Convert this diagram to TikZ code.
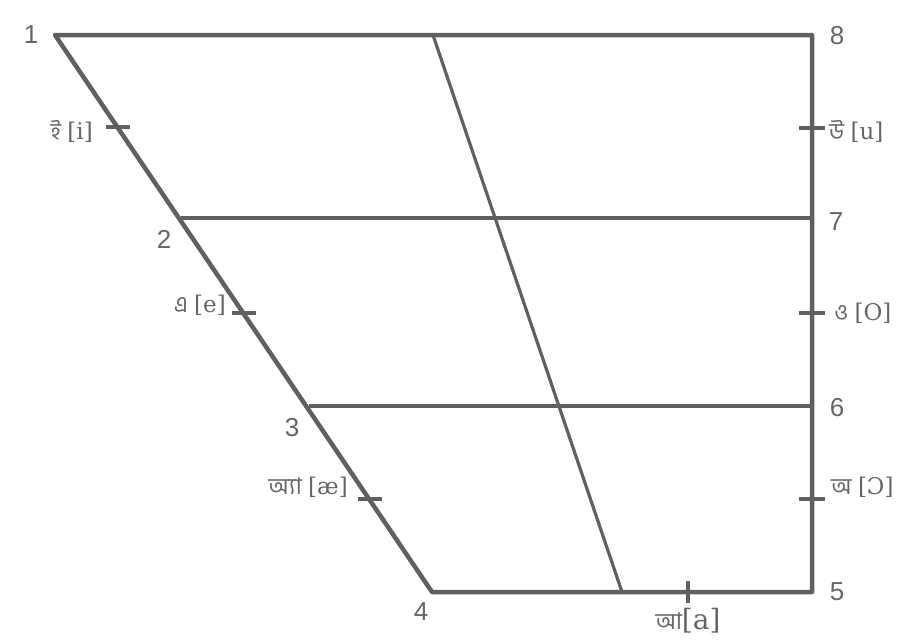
\documentclass[tikz,border=0pt]{standalone}
\usepackage{fontspec}
\setmainfont{Liberation Sans}
\newfontfamily\bn[Script=Bengali]{Hind Siliguri}
\newfontfamily\ipa{DejaVu Serif}
\begin{document}
\begin{tikzpicture}[x=1pt,y=-1pt,
  frame/.style={draw=gray!75!black,line width=4.5pt,line join=round},
  thin/.style={draw=gray!75!black,line width=3.2pt},
  tick/.style={draw=gray!75!black,line width=3.2pt},
  num/.style={text=gray!80!black,font=\fontsize{26}{26}\selectfont,inner sep=0pt},
  lab/.style={text=gray!80!black,font=\fontsize{23}{23}\selectfont,inner sep=0pt}]
\useasboundingbox (0,0) rectangle (921,641);
\coordinate (p1) at (55,35);
\coordinate (p2) at (181,218);
\coordinate (p3) at (309,406);
\coordinate (p4) at (432,592);
\coordinate (p5) at (812,592);
\coordinate (p6) at (812,406);
\coordinate (p7) at (812,218);
\coordinate (p8) at (812,35);
\coordinate (m1) at (433,35);
\coordinate (m2) at (622,592);
\draw[frame] (p4) -- (p1) -- (p8) -- (p5) -- cycle;
\draw[frame] (p2) -- (p7);
\draw[frame] (p3) -- (p6);
\draw[thin] (m1) -- (m2);
% ticks on left
\coordinate (ti) at (118,127);
\coordinate (te) at (244,313);
\coordinate (tae) at (370,499);
\draw[tick] ([xshift=-12]ti) -- ([xshift=12]ti);
\draw[tick] ([xshift=-12]te) -- ([xshift=12]te);
\draw[tick] ([xshift=-12]tae) -- ([xshift=12]tae);
% ticks on right
\coordinate (tu) at (812,128);
\coordinate (to) at (812,313);
\coordinate (tc) at (812,499);
\draw[tick] ([xshift=-13]tu) -- ([xshift=13]tu);
\draw[tick] ([xshift=-13]to) -- ([xshift=13]to);
\draw[tick] ([xshift=-13]tc) -- ([xshift=13]tc);
% bottom tick
\coordinate (ta) at (688,592);
\draw[tick] ([yshift=-11]ta) -- ([yshift=11]ta);
% numbers
\node[num] (n1) at (31,35) {1};
\node[num] (n2) at (164,239) {2};
\node[num] (n3) at (292,428) {3};
\node[num] (n4) at (421,612) {4};
\node[num] (n5) at (837,592) {5};
\node[num] (n6) at (837,408) {6};
\node[num] (n7) at (836,222) {7};
\node[num] (n8) at (837,36) {8};
% vowel labels
\node[lab,anchor=east] (li) at (93,131) {{\bn ই} \ipa[i]};
\node[lab,anchor=east] (le) at (226,305) {{\bn এ} \ipa[e]};
\node[lab,anchor=east] (lae) at (348,487) {{\bn অ্যা} \ipa[æ]};
\node[lab,anchor=west] (lu) at (829,131) {{\bn উ} \ipa[u]};
\node[lab,anchor=west] (lo) at (834,313) {{\bn ও} \ipa[O]};
\node[lab,anchor=west] (lc) at (831,487) {{\bn অ} \ipa[Ɔ]};
\node[lab] (la) at (688,621) {{\bn আ}\ipa\fontsize{28}{28}\selectfont[a]};
\end{tikzpicture}
\end{document}
